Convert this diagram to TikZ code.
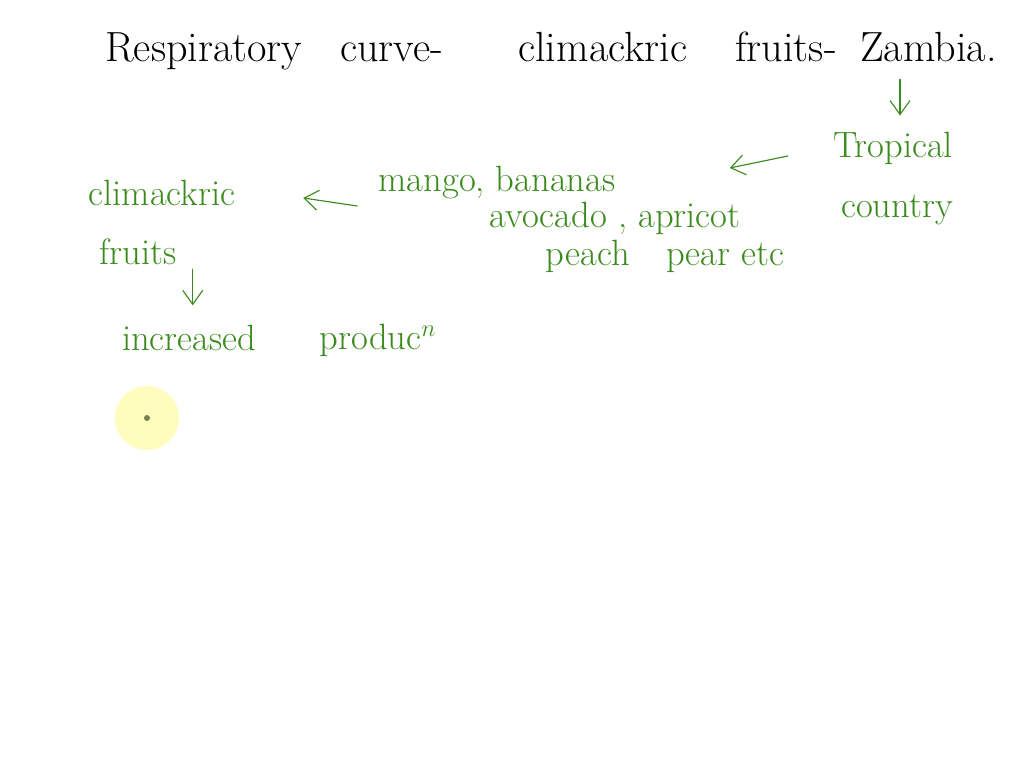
\documentclass[tikz,border=0pt]{standalone}
\usepackage{fontspec}
\usepackage{tikz}
\usetikzlibrary{positioning,arrows.meta,calc}

\definecolor{inkgreen}{RGB}{58,138,28}
\definecolor{spotyellow}{RGB}{255,252,190}
\definecolor{spotdot}{RGB}{120,130,80}

\begin{document}
\begin{tikzpicture}[
    x=0.025cm, y=-0.025cm,
    title/.style={inner sep=0pt, anchor=base west,
                  font=\fontsize{30}{34}\selectfont\addfontfeature{LetterSpace=3}},
    note/.style={inner sep=0pt, text=inkgreen,
                 font=\fontsize{26}{30}\selectfont\addfontfeature{LetterSpace=8}},
    arr/.style={-{Straight Barb[length=3.5mm,width=5mm]}, inkgreen, thick, line cap=round}
  ]
  \useasboundingbox[fill=white] (0,0) rectangle (1024,768);

  % ===== heading =====
  \node[title] (resp) at (105,62) {Respiratory};
  \node[title] (curve) at (340,62) {curve-};
  \node[title] (climhead) at (518,62) {climackric};
  \node[title] (fruithead) at (735,62) {fruits-};
  \node[title, anchor=base east] (zambia) at (997,62) {Zambia.};

  % ===== right-hand chain =====
  \node[note] (tropical) at (893,148) {Tropical};
  \node[note] (country) at (897,210) {country};
  \draw[arr] ($(tropical.north)+(7,-52)$) -- ($(tropical.north)+(7,-16)$);

  \node[note] (mango) at (497,183) {mango, bananas};
  \node[note] (avocado) at (615,218) {avocado , apricot};
  \node[note] (peach) at (665,256) {peach\quad pear etc};
  \draw[arr] ($(tropical.west)+(-45,8)$) -- ($(tropical.west)+(-103,20)$);

  % ===== left-hand chain =====
  \node[note] (climac) at (162,193) {climackric};
  \node[note] (fruits) at (138,252) {fruits};
  \draw[arr] ($(mango.west)+(-21,23)$) -- ($(mango.west)+(-75,15)$);

  \node[note] (increased) at (189,338) {increased};
  \node[note] (producn) at (378,340) {produc$^{n}$};
  \draw[arr] ($(fruits.south east)+(16,4)$) -- ($(fruits.south east)+(16,40)$);

  % ===== pointer spot =====
  \node[circle, fill=spotyellow, minimum size=64*0.025cm, inner sep=0pt] (spot) at (147,418) {};
  \node[circle, fill=spotdot, minimum size=6*0.025cm, inner sep=0pt] (dot) at (spot.center) {};

\end{tikzpicture}
\end{document}
